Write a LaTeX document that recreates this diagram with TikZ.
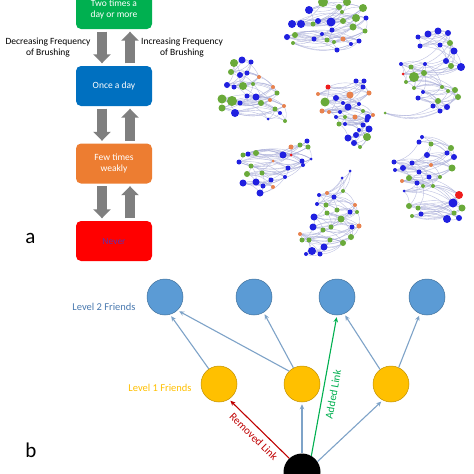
\documentclass[tikz,border=0pt]{standalone}
\usepackage{fontspec}
\setmainfont{Carlito}
\usetikzlibrary{arrows.meta}
\definecolor{boxgreen}{HTML}{00B050}
\definecolor{boxblue}{HTML}{0070C0}
\definecolor{boxorange}{HTML}{ED7D31}
\definecolor{boxred}{HTML}{FF0000}
\definecolor{nevertext}{HTML}{6030A8}
\definecolor{arrowgray}{HTML}{7F7F7F}
\definecolor{lvtwo}{HTML}{5B9BD5}
\definecolor{lvtwoline}{HTML}{41719C}
\definecolor{lvtwotext}{HTML}{4A7AB0}
\definecolor{lvone}{HTML}{FFC000}
\definecolor{lvoneline}{HTML}{C09000}
\definecolor{linkblue}{HTML}{7EA3C8}
\definecolor{linkred}{HTML}{C00000}
\definecolor{linkgreen}{HTML}{00B050}
\definecolor{nb}{HTML}{2020E0}
\definecolor{ng}{HTML}{6AAA3A}
\definecolor{no}{HTML}{E8824E}
\definecolor{nr}{HTML}{EE1C1C}
\definecolor{netline}{HTML}{A8ACD8}
\newcommand\netcluster[2]{%
  \foreach [count=\i] \x/\y/\r/\c in {#2} {\coordinate (#1-\i) at (\x,\y); \xdef\netn{\i}}%
  \foreach \i in {1,...,\netn} {%
    \foreach \k in {1,2,3,6} {%
      \pgfmathtruncatemacro\j{\i+\k}%
      \ifnum\j>\netn\relax\else\draw[netedge] (#1-\i) to[bend left=24] (#1-\j);\fi
    }%
  }%
  \foreach \x/\y/\r/\c in {#2} {\fill[\c] (\x,\y) circle[radius=\r pt];}%
}
\tikzset{
  statebox/.style={rectangle, rounded corners=5pt, minimum width=76pt, minimum height=40pt,
    inner sep=1pt, text=white, align=center, font=\fontsize{9.5}{11}\selectfont},
  bigarrow/.style={draw=arrowgray, line width=10pt, -{Triangle[width=17pt,length=9pt]},
    shorten >=2.5pt, shorten <=2.5pt},
  sidelabel/.style={align=center, font=\fontsize{9.5}{11}\selectfont, text=black},
  lvtwonode/.style={circle, minimum size=36pt, inner sep=0pt, fill=lvtwo, draw=lvtwoline, line width=0.5pt},
  lvonenode/.style={circle, minimum size=36pt, inner sep=0pt, fill=lvone, draw=lvoneline, line width=0.5pt},
  egonode/.style={circle, minimum size=37pt, inner sep=0pt, fill=black},
  friendlink/.style={draw=linkblue, line width=1.1pt, -{Stealth[length=5pt,width=4.5pt]}, shorten >=2pt},
  removedlink/.style={draw=linkred, line width=1.1pt, -{Stealth[length=5pt,width=4.5pt]}, shorten >=2pt},
  addedlink/.style={draw=linkgreen, line width=1.1pt, -{Stealth[length=5pt,width=4.5pt]}, shorten >=2pt},
  lvlabel/.style={font=\fontsize{10.5}{12}\selectfont},
  linklabel/.style={font=\fontsize{11}{13}\selectfont, inner sep=1pt},
  panellabel/.style={font=\fontsize{21}{24}\selectfont, inner sep=0pt},
  netedge/.style={draw=netline, line width=0.4pt, opacity=0.75}
}
\begin{document}
\begin{tikzpicture}[x=1pt,y=-1pt]
\fill[white] (0,0) rectangle (474,474);
\useasboundingbox (0,0) rectangle (474,474);

% ---------- panel a: flowchart ----------
\node[statebox, fill=boxgreen] (two) at (114,9) {Two times a\\day or more};
\node[statebox, fill=boxblue] (once) at (114,86) {Once a day};
\node[statebox, fill=boxorange] (few) at (114,163.5) {Few times\\weakly};
\node[statebox, fill=boxred, text=nevertext] (never) at (114,241) {Never};

\draw[bigarrow] ([xshift=-12pt]two.south) -- ([xshift=-12pt]once.north);
\draw[bigarrow] ([xshift=16pt]once.north) -- ([xshift=16pt]two.south);
\draw[bigarrow] ([xshift=-12pt]once.south) -- ([xshift=-12pt]few.north);
\draw[bigarrow] ([xshift=16pt]few.north) -- ([xshift=16pt]once.south);
\draw[bigarrow] ([xshift=-12pt]few.south) -- ([xshift=-12pt]never.north);
\draw[bigarrow] ([xshift=16pt]never.north) -- ([xshift=16pt]few.south);

\node[sidelabel] (dec) at (48,47.5) {Decreasing Frequency\\of Brushing};
\node[sidelabel] (inc) at (182,47.5) {Increasing Frequency\\of Brushing};

\node[panellabel] (la) at (30.5,238) {a};

% ---------- panel a: networks ----------
\netcluster{ca}{323/2/5/ng, 347/2/4/ng, 309/10/4/nb, 339/7/3/ng, 342/12/2/ng, 363/8/4/ng, 292/24/4/nb, 301/24/4/nb, 313/24/2.5/ng, 318/21/3/nb, 331/22/4.5/nb, 343/21/3/ng, 356/18/4/ng, 366/18/2.5/nb, 353/27/3.5/ng, 332/30/2.5/nb, 365/31/2.5/ng, 287/37/3/nb, 295/35/3/ng, 322/34/2/nb, 314/39/2.5/nb, 327/40/2.5/ng, 334/42/2/ng, 343/39/2.5/no, 359/41/2.5/nb, 351/44/2/nb, 293/43/2/ng, 337/50/2.5/nb}

\netcluster{cb}{428/34/3.5/nb, 438/31/3.5/nb, 448/33/3/nb, 418/37/2.5/nb, 420/46/2.5/nb, 440/45/2.5/nb, 450/43/3/ng, 454/51/3.5/nb, 446/61/3/nb, 451/66/3/ng, 461/67/4/nb, 401/64/2/nb, 411/67/2.5/ng, 425/64/2/nb, 403/74/1.5/nr, 414/77/5/ng, 424/73/3/ng, 406/82/2/ng, 414/88/2/ng, 442/87/2/ng, 448/91/2/ng, 455/90/3/ng, 423/92/2/nb, 458/97/3/ng, 438/101/3/ng, 418/98/2.5/nb, 433/106/2.5/nb, 447/107/3/nb, 440/111/2.5/nb, 385/113/1.5/ng}

\netcluster{cc}{242/60/3.5/nb, 234/63/4/ng, 251/62/2.5/nb, 231/72/3/ng, 240/75/3/nb, 247/73/2.5/nb, 259/77/2/no, 227/85/3/nb, 234/87/2.5/nb, 243/86/4/ng, 253/84/2/ng, 273/87/2/no, 277/93/2.5/ng, 247/96/2.5/nb, 256/97/3.5/nb, 270/100/2/no, 261/103/3/ng, 222/99/4.5/ng, 232/101/5/ng, 240/103/2.5/nb, 284/106/2/no, 222/108/3.5/ng, 275/109/2.5/ng, 235/113/4/nb, 280/113/2/nb, 268/119/1.5/nb, 285/121/2/ng}

\netcluster{cd}{356/81/2.5/nb, 364/81/2.5/nb, 328/87/2.5/nr, 363/87/2.5/nb, 318/94/2/no, 350/95/3.5/no, 369/93/2.5/no, 336/98/3/nb, 325/102/4.5/ng, 343/103/2/nb, 359/104/2/nb, 348/107/3.5/nb, 322/111/2.5/no, 329/112/2/no, 340/112/2/nb, 363/111/2/ng, 373/115/2/no, 368/117/3/nb, 355/117/2.5/no, 336/117/2/nb, 345/117/2/ng, 367/120/2.5/nb, 339/124/2.5/ng, 345/124/2/nb, 363/125/2.5/nb, 369/129/3.5/nb, 359/130/2/nb, 356/135/3/nb, 348/138/3.5/nb, 367/137/4/ng, 354/143/3/nb, 360/147/2/ng}

\netcluster{ce}{307/141/2.5/nb, 300/145/2.5/ng, 291/147/2.5/no, 308/147/2.5/ng, 256/153/3/ng, 248/154/2.5/nb, 243/155/2.5/ng, 283/155/3.5/nb, 291/155/1.5/nr, 311/159/1.5/nb, 302/161/2.5/nb, 273/161/1.5/no, 239/162/2.5/nb, 303/165/2/nb, 251/166/2.5/ng, 288/168/2.5/nb, 262/173/2.5/ng, 247/174/3/ng, 285/177/2/nb, 271/180/2.5/nb, 256/182/3.5/nb, 243/183/3.5/nb, 263/186/2.5/nb, 273/187/2/no, 260/193/3.5/nb}

\netcluster{cf}{350/171/1.5/nb, 342/178/1.5/nb, 343/191/2/ng, 327/193/2/no, 319/195/2/nb, 334/197/2.5/nb, 317/204/2/nb, 326/205/2.5/ng, 355/205/2/no, 337/210/2.5/ng, 350/212/2.5/nb, 357/212/2/ng, 327/213/2.5/ng, 314/217/3.5/nb, 341/219/3.5/ng, 331/227/2.5/ng, 313/227/3.5/nb, 359/226/2.5/no, 352/227/2.5/nb, 323/230/2.5/ng, 351/237/3/ng, 300/234/2/no, 302/240/2.5/ng, 309/240/2.5/ng, 330/240/2.5/ng, 343/243/3/ng, 324/247/3.5/nb, 312/251/4/nb, 320/254/2.5/nb, 306/254/2/nb}

\netcluster{cg}{422/137/2/nb, 419/142/2.5/nb, 431/144/2.5/ng, 451/148/3/ng, 447/153/2.5/nb, 427/155/3/nb, 454/157/3/nb, 394/162/2.5/nb, 412/163/2.5/nb, 431/165/2/no, 403/168/3/nb, 452/168/3.5/ng, 395/170/2/nb, 419/172/2.5/nb, 429/177/2.5/nb, 440/177/2/ng, 409/178/3/ng, 402/181/2/no, 417/183/2.5/nb, 423/186/2/ng, 433/186/2/ng, 404/191/1.5/nb, 459/195/4/nr, 453/203/4.5/nb, 409/206/3/ng, 418/208/2.5/ng, 462/208/3.5/ng, 454/213/2.5/ng, 421/214/2.5/nb, 412/216/2/ng, 459/218/3/nb, 447/219/4/nb}

% ---------- panel b ----------
\node[lvtwonode] (ta) at (165,297) {};
\node[lvtwonode] (tb) at (254,297) {};
\node[lvtwonode] (tc) at (337,297) {};
\node[lvtwonode] (td) at (427,297) {};
\node[lvonenode] (oa) at (219,384) {};
\node[lvonenode] (ob) at (302,384) {};
\node[lvonenode] (oc) at (391,384) {};
\node[egonode] (ego) at (302,472) {};

\node[lvlabel, text=lvtwotext] (l2lab) at (104,307) {Level 2 Friends};
\node[lvlabel, text=lvone] (l1lab) at (160,388) {Level 1 Friends};

\draw[friendlink] (oa.124) -- (ta.-74);
\draw[friendlink] (ob.135) -- (ta.-47);
\draw[friendlink] (ob.118) -- (tb.-58);
\draw[friendlink] (oc.127) -- (tc.-67);
\draw[friendlink] (oc.65) -- (td.-113);

\draw[removedlink] (ego.133) -- (oa.-57)
  node[linklabel, pos=0.48, sloped, below=4pt, text=linkred] {Removed Link};
\draw[friendlink] (ego.90) -- (ob.south);
\draw[addedlink] (ego.60) -- (tc.south)
  node[linklabel, pos=0.45, sloped, below=5pt, text=linkgreen] {Added Link};
\draw[friendlink] (ego.34) -- (oc.-117);

\node[panellabel] (lb) at (31,450) {b};
\end{tikzpicture}
\end{document}
